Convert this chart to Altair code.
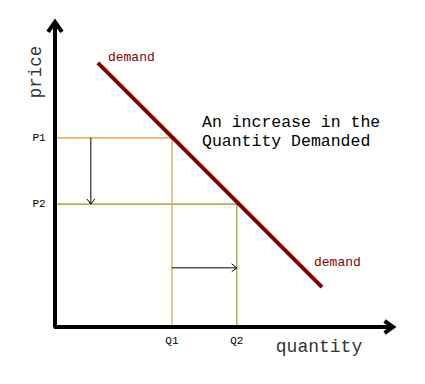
import altair as alt
import pandas as pd

# ---- data (axis units 0..10) ----
demand_q = [1.27, 7.9]
demand_p = [8.66, 1.31]
q_levels = [3.46, 5.38]
p_levels = [6.2, 4.03]
level_names_q = ["Q1", "Q2"]
level_names_p = ["P1", "P2"]
level_colors = ["#E39238", "#9C9020"]
axis_max = 10
price_arrow_q = 1.06
qty_arrow_p = 1.94

FONT = "Liberation Mono"
xs = alt.Scale(domain=[0, axis_max], nice=False, zero=False)
ys = alt.Scale(domain=[0, axis_max], nice=False, zero=False)


def X(f):
    return alt.X(f, type="quantitative", scale=xs, axis=None)


def Y(f):
    return alt.Y(f, type="quantitative", scale=ys, axis=None)


# guide lines P -> demand -> Q
guides_h = pd.DataFrame({"x0": [0, 0], "x1": q_levels, "y": p_levels, "c": level_colors})
guides_v = pd.DataFrame({"x": q_levels, "y0": [0, 0], "y1": p_levels, "c": level_colors})
h_rules = alt.Chart(guides_h).mark_rule(strokeWidth=1.1).encode(
    x=X("x0"), x2="x1", y=Y("y"), color=alt.Color("c:N", scale=None))
v_rules = alt.Chart(guides_v).mark_rule(strokeWidth=1.1).encode(
    x=X("x"), y=Y("y0"), y2="y1", color=alt.Color("c:N", scale=None))

# demand line
dem = pd.DataFrame({"q": demand_q, "p": demand_p})
demand_line = alt.Chart(dem).mark_line(color="#800000", strokeWidth=4).encode(
    x=X("q"), y=Y("p"))

dem_top = pd.DataFrame({"q": [demand_q[0]], "p": [demand_p[0]], "t": ["demand"]})
dem_bot = pd.DataFrame({"q": [demand_q[1]], "p": [demand_p[1]], "t": ["demand"]})
dem_lab1 = alt.Chart(dem_top).mark_text(font=FONT, fontSize=13, color="#800000", align="left",
                                        baseline="alphabetic", dx=10, dy=-2).encode(
    x=X("q"), y=Y("p"), text="t:N")
dem_lab2 = alt.Chart(dem_bot).mark_text(font=FONT, fontSize=13, color="#800000", align="left",
                                        baseline="alphabetic", dx=-8, dy=-21).encode(
    x=X("q"), y=Y("p"), text="t:N")

# movement arrows
down = pd.DataFrame({"x": [price_arrow_q], "y0": [p_levels[0]], "y1": [p_levels[1]]})
down_rule = alt.Chart(down).mark_rule(color="black", strokeWidth=1).encode(
    x=X("x"), y=Y("y0"), y2="y1")
down_head = alt.Chart(down).mark_point(shape="M-1,-1.3L0,0L1,-1.3", size=64, filled=False,
                                       color="black", strokeWidth=1, opacity=1).encode(
    x=X("x"), y=Y("y1"))
right = pd.DataFrame({"x0": [q_levels[0]], "x1": [q_levels[1]], "y": [qty_arrow_p]})
right_rule = alt.Chart(right).mark_rule(color="black", strokeWidth=1).encode(
    x=X("x0"), x2="x1", y=Y("y"))
right_head = alt.Chart(right).mark_point(shape="M-1.3,-1L0,0L-1.3,1", size=64, filled=False,
                                         color="black", strokeWidth=1, opacity=1).encode(
    x=X("x1"), y=Y("y"))

# axes with arrowheads
ax = pd.DataFrame({"x0": [0, -0.03], "x1": [0, axis_max], "y0": [-0.02, 0], "y1": [axis_max, 0]})
axes_v = alt.Chart(ax.iloc[[0]]).mark_rule(color="black", strokeWidth=4).encode(
    x=X("x0"), y=Y("y0"), y2="y1")
axes_h = alt.Chart(ax.iloc[[1]]).mark_rule(color="black", strokeWidth=4).encode(
    x=X("x0"), x2="x1", y=Y("y0"))
tipv = pd.DataFrame({"x": [0], "y": [axis_max]})
tiph = pd.DataFrame({"x": [axis_max], "y": [0]})
head_v = alt.Chart(tipv).mark_point(shape="M-1,1.4L0,0L1,1.4", size=196, filled=False,
                                    color="black", strokeWidth=4, opacity=1).encode(
    x=X("x"), y=Y("y"))
head_h = alt.Chart(tiph).mark_point(shape="M-1.4,-1L0,0L-1.4,1", size=144, filled=False,
                                    color="black", strokeWidth=4, opacity=1).encode(
    x=X("x"), y=Y("y"))

# level labels
plab = pd.DataFrame({"x": [0, 0], "y": p_levels, "t": level_names_p})
qlab = pd.DataFrame({"x": q_levels, "y": [0, 0], "t": level_names_q})
p_text = alt.Chart(plab).mark_text(font=FONT, fontSize=11, color="black", align="center",
                                   baseline="middle", dx=-16).encode(
    x=X("x"), y=Y("y"), text="t:N")
q_text = alt.Chart(qlab).mark_text(font=FONT, fontSize=11, color="black", align="center",
                                   baseline="middle", dy=14).encode(
    x=X("x"), y=Y("y"), text="t:N")

# axis titles and annotation
price_t = alt.Chart(pd.DataFrame({"t": ["price"]})).mark_text(
    font=FONT, fontSize=17.5, color="#333333", angle=270, align="center", baseline="middle").encode(
    x=alt.value(-19), y=alt.value(50), text="t:N")
qty_t = alt.Chart(pd.DataFrame({"t": ["quantity"]})).mark_text(
    font=FONT, fontSize=18, color="#333333", align="center", baseline="middle").encode(
    x=alt.value(264), y=alt.value(325), text="t:N")
note = alt.Chart(pd.DataFrame({"t": ["An increase in the\nQuantity Demanded"]})).mark_text(
    font=FONT, fontSize=16.5, color="black", align="left", baseline="alphabetic",
    lineBreak="\n", lineHeight=19).encode(
    x=alt.value(147), y=alt.value(105), text="t:N")

chart = alt.layer(
    h_rules, v_rules, down_rule, down_head, right_rule, right_head,
    demand_line, dem_lab1, dem_lab2, axes_v, axes_h, head_v, head_h,
    p_text, q_text, price_t, qty_t, note,
).properties(
    width=338, height=305,
    padding={"left": 47, "top": 14, "right": 24, "bottom": 49},
    autosize=alt.AutoSizeParams(type="none"),
    background="white",
).configure_view(stroke=None)

chart.save("out.html", embed_options={"renderer": "svg", "actions": False})
